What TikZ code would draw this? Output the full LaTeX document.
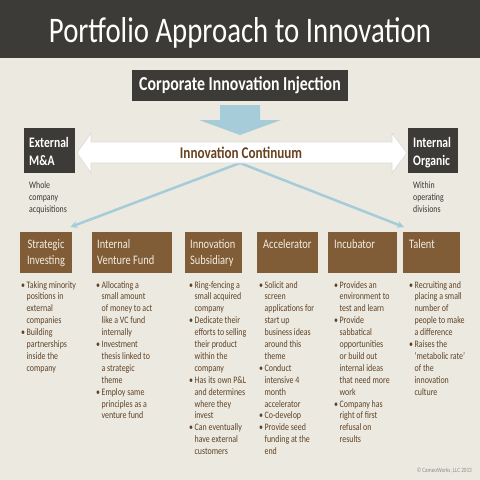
\documentclass[tikz,border=0pt]{standalone}
\usepackage{fontspec}
\setmainfont{Carlito}[FakeStretch=0.8]
\usetikzlibrary{arrows.meta}
\usetikzlibrary{positioning}

\definecolor{bgbeige}{RGB}{236,234,224}
\definecolor{darkbar}{RGB}{60,59,55}
\definecolor{boxbrown}{RGB}{128,92,55}
\definecolor{textbrown}{RGB}{94,65,38}
\definecolor{contbrown}{RGB}{104,66,30}
\definecolor{arrowblue}{RGB}{166,203,217}
\definecolor{labelwhite}{RGB}{245,238,225}
\definecolor{notegray}{RGB}{55,55,52}

% column of lines, first baseline on top
\newcommand{\lines}[1]{\begin{tabular}[t]{@{}l@{}}#1\end{tabular}}
% bulleted column
\newcommand{\blist}[1]{\begin{tabular}[t]{@{}l@{\hspace{1.5pt}}l@{}}#1\end{tabular}}

\begin{document}
\begin{tikzpicture}
			[
			x=1pt,y=-1pt,
			every node/.style={inner sep=0pt}
			]
			
			% Node styles
			\tikzstyle{dark box}=[fill=darkbar,text=white];
			\tikzstyle{brown box}=[fill=boxbrown,anchor=north west,minimum height=41pt];
			\tikzstyle{box label}=[anchor=base west,text=labelwhite,font=\fontsize{13}{16}\selectfont];
			\tikzstyle{bullet text}=[anchor=base west,text=textbrown,font=\fontsize{9.9}{11.9}\selectfont];
			\tikzstyle{side note}=[anchor=base west,text=notegray,font=\fontsize{9.8}{12}\selectfont];
			\tikzstyle{branch}=[draw=arrowblue,line width=2.5pt,-{Stealth[length=7pt,width=7pt]}];
			
			% Background and title
			\fill[bgbeige](0,0)rectangle(480,480);
			\useasboundingbox(0,0)rectangle(480,480);
			\fill[darkbar](0,0)rectangle(480,58);
			\node(title)[anchor=base,text=white,font=\fontsize{36}{40}\selectfont]at(240,42){Portfolio Approach to Innovation};
			
			% Injection
			\node(inject)[dark box,minimum width=216pt,minimum height=31pt,font=\bfseries\fontsize{19.8}{22}\selectfont]at(240,85.5){Corporate Innovation Injection};
			\fill[arrowblue](220,105)--(260,105)--(260,120)--(281,120)--(240,135)--(199,120)--(220,120)--cycle;
			
			% Continuum ends
			\node(ext)[dark box,minimum width=51pt,minimum height=45pt]at(49.5,150.5){};
			\node(int)[dark box,minimum width=50pt,minimum height=45pt]at(433,150.5){};
			\node[anchor=base west,text=white,font=\bfseries\fontsize{14.5}{18}\selectfont]at(29,147){\lines{External\\M\&A}};
			\node[anchor=base west,text=white,font=\bfseries\fontsize{14.5}{18}\selectfont]at(413,147){\lines{Internal\\Organic}};
			\node(extnote)[side note]at(29,188){\lines{Whole\\company\\acquisitions}};
			\node(intnote)[side note]at(413,188){\lines{Within\\operating\\divisions}};
			
			% The six approaches
			\foreach \name/\l/\r in {si/20/72,ivf/92/172,isub/185/242,acc/257/318,inc/328/397,tal/403/460}
			\node(\name)[brown box,minimum width={(\r-\l)*1pt}]at(\l,232){};
			
			% Branches
			\coordinate(fork)at(240,163);
			\draw[branch](fork)--([xshift=-2pt,yshift=5pt]si.north east);
			\draw[branch](fork)--([xshift=1pt,yshift=5pt]tal.north west);
			
			% Double arrow
			\fill[white,draw=black!15,line width=0.6pt]
			(77,153)--(91,133)--(91,142)--(392,142)--(392,133)--(407,153)
			--(392,173)--(392,163)--(91,163)--(91,173)--cycle;
			\node(cont)[anchor=base,text=contbrown,font=\bfseries\fontsize{16.4}{18}\selectfont]at(241,158){Innovation Continuum};
			
			% Box labels
			\node[anchor=base,text=labelwhite,font=\fontsize{13}{16}\selectfont]at(46,248){\begin{tabular}[t]{@{}c@{}}Strategic\\Investing\end{tabular}};
			\node[box label]at(97,248){\lines{Internal\\Venture Fund}};
			\node[box label]at(190,248){\lines{Innovation\\Subsidiary}};
			\node[box label]at(263,248){\lines{Accelerator}};
			\node[box label]at(334,248){\lines{Incubator}};
			\node[box label]at(409,248){\lines{Talent}};
			
			% Bullets
			\node[bullet text]at(21,288){\blist{
				\textbullet & Taking minority\\ & positions in\\ & external\\ & companies\\
				\textbullet & Building\\ & partnerships\\ & inside the\\ & company}};
			\node[bullet text]at(96,288){\blist{
				\textbullet & Allocating a\\ & small amount\\ & of money to act\\ & like a VC fund\\ & internally\\
				\textbullet & Investment\\ & thesis linked to\\ & a strategic\\ & theme\\
				\textbullet & Employ same\\ & principles as a\\ & venture fund}};
			\node[bullet text]at(189,288){\blist{
				\textbullet & Ring-fencing a\\ & small acquired\\ & company\\
				\textbullet & Dedicate their\\ & efforts to selling\\ & their product\\ & within the\\ & company\\
				\textbullet & Has its own P\&L\\ & and determines\\ & where they\\ & invest\\
				\textbullet & Can eventually\\ & have external\\ & customers}};
			\node[bullet text]at(259,288){\blist{
				\textbullet & Solicit and\\ & screen\\ & applications for\\ & start up\\ & business ideas\\ & around this\\ & theme\\
				\textbullet & Conduct\\ & intensive 4\\ & month\\ & accelerator\\
				\textbullet & Co-develop\\
				\textbullet & Provide seed\\ & funding at the\\ & end}};
			\node[bullet text]at(334,288){\blist{
				\textbullet & Provides an\\ & environment to\\ & test and learn\\
				\textbullet & Provide\\ & sabbatical\\ & opportunities\\ & or build out\\ & internal ideas\\ & that need more\\ & work\\
				\textbullet & Company has\\ & right of first\\ & refusal on\\ & results}};
			\node[bullet text]at(409,288){\blist{
				\textbullet & Recruiting and\\ & placing a small\\ & number of\\ & people to make\\ & a difference\\
				\textbullet & Raises the\\ & ‘metabolic rate’\\ & of the\\ & innovation\\ & culture}};
			
			% Copyright
			\node[anchor=base east,text=black!45,font=\fontsize{6.5}{7}\selectfont]at(472,472){© CameoWorks, LLC 2013};
			\end{tikzpicture}
\end{document}
